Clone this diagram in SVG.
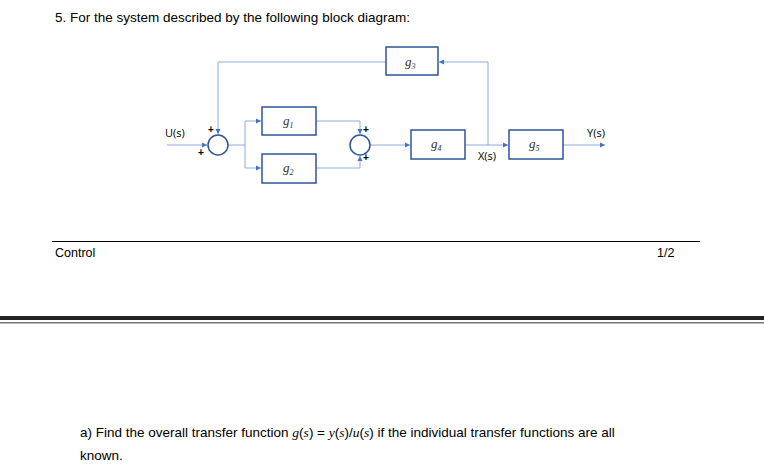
<svg xmlns="http://www.w3.org/2000/svg" width="764" height="468" viewBox="0 0 764 468">
<defs>
<marker id="ah" markerWidth="6" markerHeight="6" refX="5" refY="3" orient="auto" markerUnits="userSpaceOnUse"><path d="M0,0.5 L5,3 L0,5.5 z" fill="#4472C4"/></marker>
<style>
.t{font-family:"Liberation Sans",Calibri,sans-serif;fill:#000}
.c{font-family:"Open Sans","Liberation Sans",sans-serif;font-size:11px;fill:#000}
.g{font-family:"Liberation Serif",serif;font-style:italic;font-size:13px;fill:#333}
.s{font-family:"Liberation Serif",serif;font-size:8px;fill:#333}
.b{fill:#fff;stroke:#2F5597;stroke-width:1.5}
.w{fill:none;stroke:#8FAADC;stroke-width:1}
.p{font-family:"Liberation Sans",sans-serif;font-size:10px;font-weight:bold;fill:#000}
</style>
</defs>
<rect width="764" height="468" fill="#fff"/>
<text class="t" x="55" y="22" font-size="13.5">5.  For the system described by the following block diagram:</text>
<g id="connectors">
<path class="w" d="M167,145 H207" marker-end="url(#ah)"/>
<path class="w" d="M386,62 H218 V134" marker-end="url(#ah)"/>
<path class="w" d="M228,145 H245 V121 H261" marker-end="url(#ah)"/>
<path class="w" d="M245,145 V168 H261" marker-end="url(#ah)"/>
<path class="w" d="M316,121 H360 V134" marker-end="url(#ah)"/>
<path class="w" d="M316,168 H360 V156" marker-end="url(#ah)"/>
<path class="w" d="M370,145 H410" marker-end="url(#ah)"/>
<path class="w" d="M465,145 H508" marker-end="url(#ah)"/>
<path class="w" d="M488,145 V62 H439" marker-end="url(#ah)"/>
<path class="w" d="M563,145 H605" marker-end="url(#ah)"/>
</g>
<g id="sum1"><circle class="b" cx="218" cy="145" r="10"/><text class="p" x="208" y="133">+</text><text class="p" x="198" y="156">+</text></g>
<g id="sum2"><circle class="b" cx="360" cy="145" r="10"/><text class="p" x="363" y="133">+</text><text class="p" x="363" y="161">+</text></g>
<g id="g1"><rect class="b" x="262" y="107" width="54" height="28"/><text class="g" x="283" y="125">g<tspan class="s" dy="3">1</tspan></text></g>
<g id="g2"><rect class="b" x="262" y="154" width="54" height="29"/><text class="g" x="283" y="172">g<tspan class="s" dy="3">2</tspan></text></g>
<g id="g3"><rect class="b" x="386" y="47" width="52" height="28"/><text class="g" x="405" y="66">g<tspan class="s" dy="3">3</tspan></text></g>
<g id="g4"><rect class="b" x="411" y="130" width="54" height="29"/><text class="g" x="431" y="148">g<tspan class="s" dy="3">4</tspan></text></g>
<g id="g5"><rect class="b" x="509" y="130" width="54" height="29"/><text class="g" x="529" y="148">g<tspan class="s" dy="3">5</tspan></text></g>
<text class="c" x="165" y="137">U(s)</text>
<text class="c" x="587" y="137">Y(s)</text>
<text class="c" x="478" y="160">X(s)</text>
<line x1="52" y1="241.5" x2="700" y2="241.5" stroke="#000" stroke-width="1.2"/>
<text class="t" x="55" y="257" font-size="12.5">Control</text>
<text class="t" x="657" y="257" font-size="12.5">1/2</text>
<rect x="0" y="316" width="764" height="4" fill="#222"/>
<rect x="0" y="322" width="764" height="1.5" fill="#777"/>
<text class="t" x="80" y="437" font-size="13.5">a) Find the overall transfer function <tspan font-family="Liberation Serif" font-style="italic">g</tspan>(<tspan font-family="Liberation Serif" font-style="italic">s</tspan>) = <tspan font-family="Liberation Serif" font-style="italic">y</tspan>(<tspan font-family="Liberation Serif" font-style="italic">s</tspan>)/<tspan font-family="Liberation Serif" font-style="italic">u</tspan>(<tspan font-family="Liberation Serif" font-style="italic">s</tspan>) if the individual transfer functions are all</text>
<text class="t" x="80" y="460" font-size="13.5">known.</text>
</svg>
